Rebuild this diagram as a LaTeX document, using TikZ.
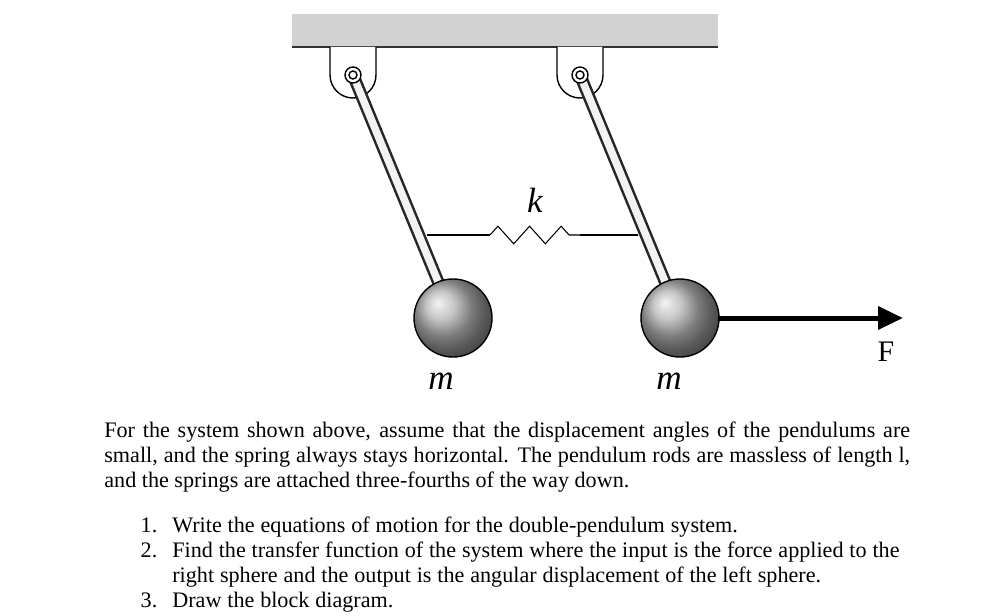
\documentclass[tikz,border=0pt]{standalone}
\usepackage{fontspec}
\usepackage{enumitem}
\setmainfont{Liberation Serif}
\usetikzlibrary{
	arrows.meta,
	calc,
	decorations.pathmorphing
}
\tikzset{
    bracket/.style={draw=black, thick, fill=white},
    rodout/.style={line width=0.25cm, line cap=round, black!85},
    rodin/.style={line width=0.15cm, line cap=round, gray!10},
    bob/.style={draw=black, thick, ball color=gray!60},
    wire/.style={semithick, black}
}
\begin{document}
\begin{tikzpicture}[x=0.02cm, y=-0.02cm]
    % Definitions
    \useasboundingbox (0,0) rectangle (1003,615);
    \def \ballradius{39}
    %%%
    %%% Ceiling
    %%%
    \fill[gray!35] (292,14) rectangle (718,47);
    \draw[thick, black!80] (292,47) -- (718,47);
    % Brackets and pins
    \foreach \px/\name in {353/l, 580/r}
    {
        \draw[bracket] (\px-23,47) -- (\px-23,75) arc (180:0:23) -- (\px+23,47);
        \coordinate (pin\name) at (\px,75);
    }
    % Bobs
    \coordinate (bobl) at (453,318);
    \coordinate (bobr) at (680,318);
    % Rods
    \foreach \name in {l, r}
    {
        \draw[rodout] (pin\name) -- ($(pin\name)!0.85!(bob\name)$);
        \draw[rodin] (pin\name) -- ($(pin\name)!0.85!(bob\name)$);
        \draw[thick, fill=white] (pin\name) circle (8);
        \draw[thick, fill=white] (pin\name) circle (4);
    }
    \foreach \name in {l, r}
    {
        \shade[bob] (bob\name) circle (\ballradius);
    }
    % Spring
    \coordinate (sprla) at (490,235);
    \coordinate (sprra) at (580,235);
    \draw[wire] (427,235) -- (sprla);
    \draw[wire, decoration={zigzag, segment length=18, amplitude=5}, decorate] (sprla) -- (sprra);
    \draw[wire] (sprra) -- (638,235);
    \node (klabel) at (535,200) {\fontsize{20}{24}\selectfont\itshape k};
    % Force
    \coordinate (fstart) at (718,318);
    \coordinate (fend) at (903,318);
    \draw[line width=0.1cm, -{Triangle[length=0.5cm, width=0.45cm]}] (fstart) -- (fend);
    \node (flabel) at (886,352) {\fontsize{17}{20}\selectfont F};
    % Masses
    \node (ml) at (441,381) {\fontsize{20}{24}\selectfont\itshape m};
    \node (mr) at (669,381) {\fontsize{20}{24}\selectfont\itshape m};
    %%%
    %%% Problem text
    %%%
    \node[anchor=north west, inner sep=0pt, text width=16.12cm, align=justify] (para) at (104,422)
    {\fontsize{12.6}{14.2}\selectfont For the system shown above, assume that the displacement angles of the pendulums are small, and the spring always stays horizontal. The pendulum rods are massless of length l, and the springs are attached three-fourths of the way down.\par};
    \node[anchor=north west, inner sep=0pt, text width=16.12cm] (tasks) at (104,507)
    {\fontsize{12.6}{14.2}\selectfont
    \begin{enumerate}[leftmargin=1.36cm, labelsep=0.3cm, itemsep=0pt, parsep=0pt, topsep=0pt]
    \item Write the equations of motion for the double-pendulum system.
    \item Find the transfer function of the system where the input is the force applied to the right sphere and the output is the angular displacement of the left sphere.
    \item Draw the block diagram.
    \end{enumerate}};
\end{tikzpicture}
\end{document}
